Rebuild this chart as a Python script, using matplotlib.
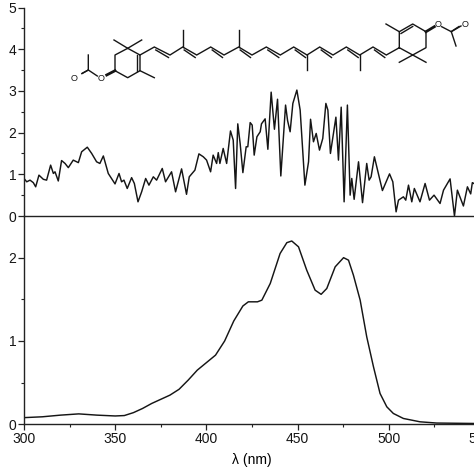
import numpy as np
import matplotlib
matplotlib.use("Agg")
import matplotlib.pyplot as plt

plt.rcParams['font.family'] = ['Liberation Sans', 'DejaVu Sans']

# upper panel, noisy spectrum
noisy_wl = [300.0, 301.5, 303.3, 305.1, 306.4, 308.2, 310.6, 312.4, 314.6, 316.1, 317.0, 318.8, 320.6, 322.5, 324.3,
            327.0, 329.8, 331.6, 334.7, 337.1, 339.8, 341.6, 343.5, 346.2, 349.9, 352.1, 353.5, 354.8, 356.6, 359.0,
            360.5, 362.5, 364.5, 366.7, 368.5, 370.9, 372.7, 375.8, 377.6, 380.9, 383.1, 386.4, 389.1, 390.6, 393.7,
            395.9, 398.3, 400.1, 402.3, 403.7, 405.6, 406.5, 407.4, 409.2, 411.1, 413.2, 414.7, 416.0, 417.2, 418.5,
            420.0, 421.8, 422.7, 424.0, 425.1, 426.2, 427.7, 429.5, 430.2, 432.2, 433.7, 435.5, 437.3, 439.0, 440.8,
            443.4, 444.5, 445.9, 447.4, 449.6, 451.4, 454.0, 456.0, 457.1, 458.7, 460.2, 462.0, 463.8, 465.5, 466.6,
            468.0, 471.0, 472.4, 473.9, 475.5, 477.3, 478.8, 479.7, 481.0, 483.4, 485.6, 487.9, 489.2, 490.3, 492.1,
            496.5, 500.4, 502.2, 504.0, 505.3, 508.0, 509.3, 510.8, 512.6, 514.0, 517.1, 519.9, 522.3, 524.8, 528.1,
            530.0, 533.6, 536.0, 537.6, 540.9, 543.1, 544.9, 545.8, 546.6]
noisy_val = [0.90, 0.82, 0.86, 0.80, 0.70, 0.98, 0.88, 0.86, 1.22, 1.02, 1.06, 0.84, 1.33, 1.26, 1.16,
             1.34, 1.28, 1.54, 1.65, 1.50, 1.30, 1.26, 1.44, 1.02, 0.77, 1.02, 0.82, 0.86, 0.66, 0.92,
             0.78, 0.34, 0.58, 0.90, 0.74, 0.94, 0.86, 1.14, 0.82, 1.06, 0.58, 1.13, 0.52, 0.94, 1.10,
             1.49, 1.42, 1.34, 1.06, 1.46, 1.26, 1.52, 1.26, 1.62, 1.26, 2.04, 1.82, 0.66, 2.21, 1.74,
             1.04, 1.66, 1.66, 2.24, 2.18, 1.46, 1.90, 2.02, 2.21, 2.33, 1.60, 2.97, 2.08, 2.80, 0.96,
             2.66, 2.29, 2.02, 2.70, 3.02, 2.54, 0.74, 1.30, 2.32, 1.78, 1.98, 1.58, 1.86, 2.70, 2.54,
             1.50, 2.37, 1.34, 2.61, 0.34, 2.66, 0.50, 0.90, 0.40, 1.30, 0.32, 1.26, 0.86, 0.94, 1.42,
             0.61, 1.01, 0.82, 0.10, 0.38, 0.46, 0.38, 0.74, 0.34, 0.66, 0.34, 0.78, 0.38, 0.50, 0.30,
             0.62, 0.89, 0.00, 0.62, 0.24, 0.70, 0.53, 0.80, 0.78]

# lower panel, absorption
abs_wl = [300, 310, 320, 330, 340, 350, 355, 360, 365, 370, 375, 380, 385, 390, 395, 400, 405, 410, 415, 420,
          423, 428, 430.4, 435, 440.4, 444.1, 446.8, 450.5, 455, 459.6, 462.9, 466, 470.6, 475.2, 477.9, 480.6,
          484.3, 487.9, 491.6, 495.2, 498.9, 502.5, 508, 517.1, 526.3, 546.6]
abs_val = [0.08, 0.09, 0.11, 0.125, 0.11, 0.10, 0.105, 0.14, 0.19, 0.25, 0.30, 0.35, 0.42, 0.53, 0.65, 0.74, 0.83, 1.00, 1.24, 1.42,
           1.47, 1.47, 1.49, 1.69, 2.05, 2.18, 2.20, 2.13, 1.85, 1.61, 1.56, 1.63, 1.89, 2.00, 1.97, 1.79,
           1.49, 1.05, 0.69, 0.37, 0.21, 0.13, 0.07, 0.03, 0.015, 0.01]

x_ticks = [300, 350, 400, 450, 500, 550]
upper_ticks = [0, 1, 2, 3, 4, 5]
lower_ticks = [0, 1, 2]

# molecule sketch, in image pixels
chain = [(140, 55), (154.3, 47), (170, 55), (182.7, 47), (196.7, 55), (210.7, 47), (224, 55), (238.7, 47), (252, 55),
         (266.3, 47), (280.3, 55), (293.7, 47), (307, 55), (319.7, 47), (333, 55), (346.3, 47), (359.7, 55),
         (373, 47), (386.3, 55), (399.3, 47.7)]
bonds = [[(115, 70.7), (115, 55), (127.7, 48.3), (140, 55), (140, 70.7), (127.7, 77.7), (115, 70.7)],
         [(127.7, 48.3), (114, 40)], [(127.7, 48.3), (141.7, 40)], [(140, 70.7), (154.3, 77.7)],
         [(182.7, 47), (182.7, 30)], [(238.7, 47), (238.7, 30)], [(307, 55), (307, 70)], [(359.7, 55), (359.7, 70)],
         [(88.3, 55), (88.3, 70), (97.3, 76)], [(88.3, 70), (82, 73.5)],
         [(399.3, 47.7), (399.3, 31.7), (412.7, 24), (426, 31.7), (426, 47.7), (412.7, 55), (399.3, 47.7)],
         [(412.7, 55), (399.3, 62.3)], [(412.7, 55), (426, 62.3)], [(399.3, 31.7), (386, 24)],
         [(441.7, 26.7), (451.3, 31.7), (461, 26)], [(451.3, 31.7), (456, 46)]]
double_bonds = [[(140, 55), (140, 70.7)], [(401, 31), (412.7, 24)], [(82, 71), (88.3, 67.5)], [(451.3, 29), (459, 24)]]
bold_bonds = [[(106.7, 75), (115, 70.7)], [(426, 31.7), (434.3, 26.7)]]
oxygens = [(74, 78), (100.7, 78), (438.3, 24.7), (465, 24.7)]

fig = plt.figure(figsize=(4.74, 4.74), dpi=100)

left = 24 / 474
width = 456 / 474  # 550 tick sits past the right edge of the picture
top_ax = fig.add_axes([left, 1 - 216 / 474, width, 208.5 / 474])
bot_ax = fig.add_axes([left, 1 - 424.3 / 474, width, 208.3 / 474])

top_ax.plot(noisy_wl, noisy_val, color='#151515', lw=1.05)
bot_ax.plot(abs_wl, abs_val, color='#151515', lw=1.05)

top_ax.set_xlim(300, 550)
top_ax.set_ylim(0, 5)
top_ax.set_yticks(upper_ticks)
top_ax.set_yticks(np.arange(0.5, 5, 1), minor=True)
top_ax.set_xticks([])

bot_ax.set_xlim(300, 550)
bot_ax.set_ylim(0, 2.5)
bot_ax.set_yticks(lower_ticks)
bot_ax.set_yticks([0.5, 1.5], minor=True)
bot_ax.set_xticks(x_ticks)
bot_ax.set_xticks([325, 375, 425, 475, 525], minor=True)
bot_ax.set_xlabel('λ (nm)', fontsize=10, labelpad=5, x=0.5)

for ax in [top_ax, bot_ax]:
    ax.spines['top'].set_visible(False)
    ax.spines['right'].set_visible(False)
    ax.spines['left'].set_linewidth(1.0)
    ax.spines['bottom'].set_linewidth(1.0)
    ax.spines['left'].set_color('#222222')
    ax.spines['bottom'].set_color('#222222')
    ax.patch.set_alpha(0)
    ax.tick_params(which='major', length=4, width=0.9, labelsize=10, color='#222222', labelcolor='#151515', pad=1.5)
    ax.tick_params(which='minor', length=2, width=0.8, color='#222222')

# overlay in pixel coordinates for the structure
mol = fig.add_axes([0, 0, 1, 1])
mol.set_xlim(0, 474)
mol.set_ylim(474, 0)
mol.axis('off')
mol.patch.set_alpha(0)

cx, cy = zip(*chain)
mol.plot(cx, cy, color='#151515', lw=1.0, solid_joinstyle='miter')
for i in range(1, len(chain) - 1, 2):
    (x0, y0), (x1, y1) = chain[i], chain[i + 1]
    mol.plot([x0 + 1.5, x1 - 1.5], [y0 + 3, y1 + 2.5], color='#151515', lw=1.0)
for seg in bonds:
    xs, ys = zip(*seg)
    mol.plot(xs, ys, color='#151515', lw=1.0)
for k, seg in enumerate(double_bonds):
    xs, ys = zip(*seg)
    mol.plot([x - 2.5 if k == 0 else x for x in xs], [y + 2.5 if k else y for y in ys], color='#151515', lw=1.0)
for seg in bold_bonds:
    xs, ys = zip(*seg)
    mol.plot(xs, ys, color='#151515', lw=2.0)
for ox, oy in oxygens:
    mol.text(ox, oy, 'O', fontsize=6.5, ha='center', va='center', color='#151515')

fig.savefig('out.png', dpi=100)
